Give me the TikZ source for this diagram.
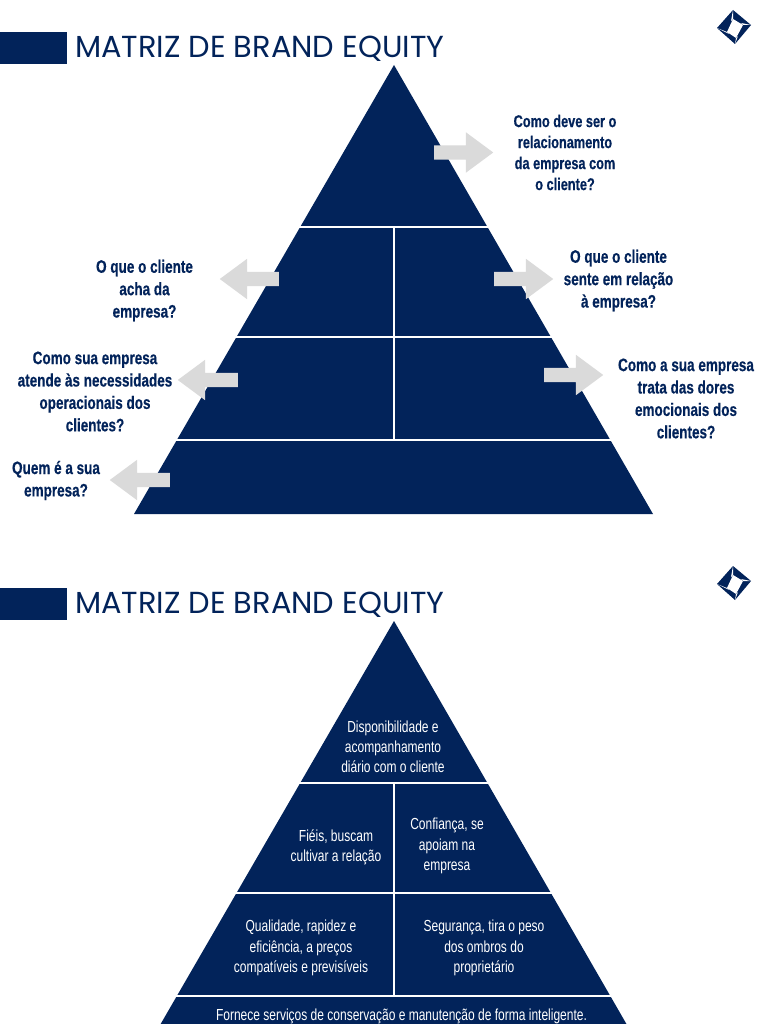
\documentclass[tikz,border=0pt]{standalone}
\usepackage{fontspec}
\usepackage{xcolor}
\usetikzlibrary{positioning,shapes.arrows}
\setmainfont{Liberation Sans}
\newfontfamily\condfont[FakeStretch=0.75]{Liberation Sans}
\newfontfamily\condbold[FakeStretch=0.75,FakeBold=0.5]{Liberation Sans Bold}
\newfontfamily\headfont{Poppins}
\definecolor{navy}{HTML}{02235A}
\definecolor{arrowgray}{HTML}{DADADA}

\begin{document}
\begin{tikzpicture}[
    x=1pt, y=-1pt,
    titlebar/.style={fill=navy, minimum width=67pt, minimum height=32pt,
                     inner sep=0pt, anchor=north west},
    titletext/.style={font=\headfont\fontsize{30.4}{33}\selectfont, text=navy, inner sep=0pt},
    sepline/.style={draw=white, line width=2.7pt},
    question/.style={align=center, text=navy, inner sep=0pt,
                     font=\condbold\fontsize{18}{22.4}\selectfont},
    smallquestion/.style={question, font=\condbold\fontsize{17}{21}\selectfont},
    answer/.style={align=center, text=white, inner sep=0pt,
                   font=\condfont\fontsize{16}{20.2}\selectfont},
    blockarrow/.style={single arrow, fill=arrowgray, minimum width=40pt, inner xsep=0pt,
                       inner ysep=7pt, single arrow head extend=13pt,
                       single arrow tip angle=73, single arrow head indent=0pt},
    toright/.style={blockarrow, anchor=tail},
    toleft/.style={blockarrow, anchor=tail, shape border rotate=180}
]
    \useasboundingbox (0,0) rectangle (768,1024);
    \clip (0,0) rectangle (768,1024);
    \fill[white] (0,0) rectangle (768,1024);

    % both slides share the same frame
    \foreach \yo/\nm in {0/one, 556/two} {
        \begin{scope}[shift={(0,\yo)}]
            \node[titlebar] (bar\nm) at (0,32) {};
            \node[titletext, right=7.5pt of bar\nm, yshift=-1pt] (title\nm) {MATRIZ DE BRAND EQUITY};

            \coordinate (apex\nm) at (394,65);
            \coordinate (left\nm) at (134,514);
            \coordinate (right\nm) at (653,514);
            \fill[navy] (apex\nm) -- (right\nm) -- (left\nm) -- cycle;
            \draw[sepline] (200,227) -- (600,227);
            \draw[sepline] (150,337) -- (640,337);
            \draw[sepline] (100,440) -- (680,440);
            \draw[sepline] (394,227) -- (394,440);

            % logo
            \fill[navy] (733,10) -- (751,25) -- (735,44) -- (717,28) -- cycle;
            \fill[white] (733,19) -- (743,25) -- (736,38) -- (727,32) -- cycle;
            \fill[white] (733,10) -- (733,19) -- (731,21) -- cycle;
            \fill[white] (751,25) -- (743,25) -- (741,23) -- cycle;
            \fill[white] (735,44) -- (736,38) -- (738,36) -- cycle;
            \fill[white] (717,28) -- (727,32) -- (729,34) -- cycle;
        \end{scope}
    }

    \node[toright, minimum height=59pt] (arrowtop) at (434,152.5) {};
    \node[toleft, minimum height=59pt] (arrowfiel) at (279,279) {};
    \node[toright, minimum height=59pt] (arrowsente) at (494,279) {};
    \node[toleft, minimum height=60pt] (arrowoper) at (238,380) {};
    \node[toright, minimum height=59pt] (arrowdores) at (544,375) {};
    \node[toleft, minimum height=60pt] (arrowbase) at (170,480) {};

    \node[smallquestion] (qtop) at (565,152.5)
        {Como deve ser o\\relacionamento\\da empresa com\\o cliente?};
    \node[question] (qfiel) at (144.5,290.5) {O que o cliente\\acha da\\empresa?};
    \node[question] (qsente) at (618.5,280.5) {O que o cliente\\sente em relação\\à empresa?};
    \node[question] (qoper) at (95,391.5)
        {Como sua empresa\\atende às necessidades\\operacionais dos\\clientes?};
    \node[question] (qdores) at (686,398.5)
        {Como a sua empresa\\trata das dores\\emocionais dos\\clientes?};
    \node[question] (qbase) at (56,480.5) {Quem é a sua\\empresa?};

    \node[answer] (atop) at (393,747) {Disponibilidade e\\acompanhamento\\diário com o cliente};
    \node[answer] (afiel) at (336,847) {Fiéis, buscam\\cultivar a relação};
    \node[answer] (asente) at (447,846) {Confiança, se\\apoiam na\\empresa};
    \node[answer] (aoper) at (301,948) {Qualidade, rapidez e\\eficiência, a preços\\compatíveis e previsíveis};
    \node[answer] (adores) at (484,948) {Segurança, tira o peso\\dos ombros do\\proprietário};
    \node[answer] (abase) at (401.5,1016) {Fornece serviços de conservação e manutenção de forma inteligente.};
\end{tikzpicture}
\end{document}
